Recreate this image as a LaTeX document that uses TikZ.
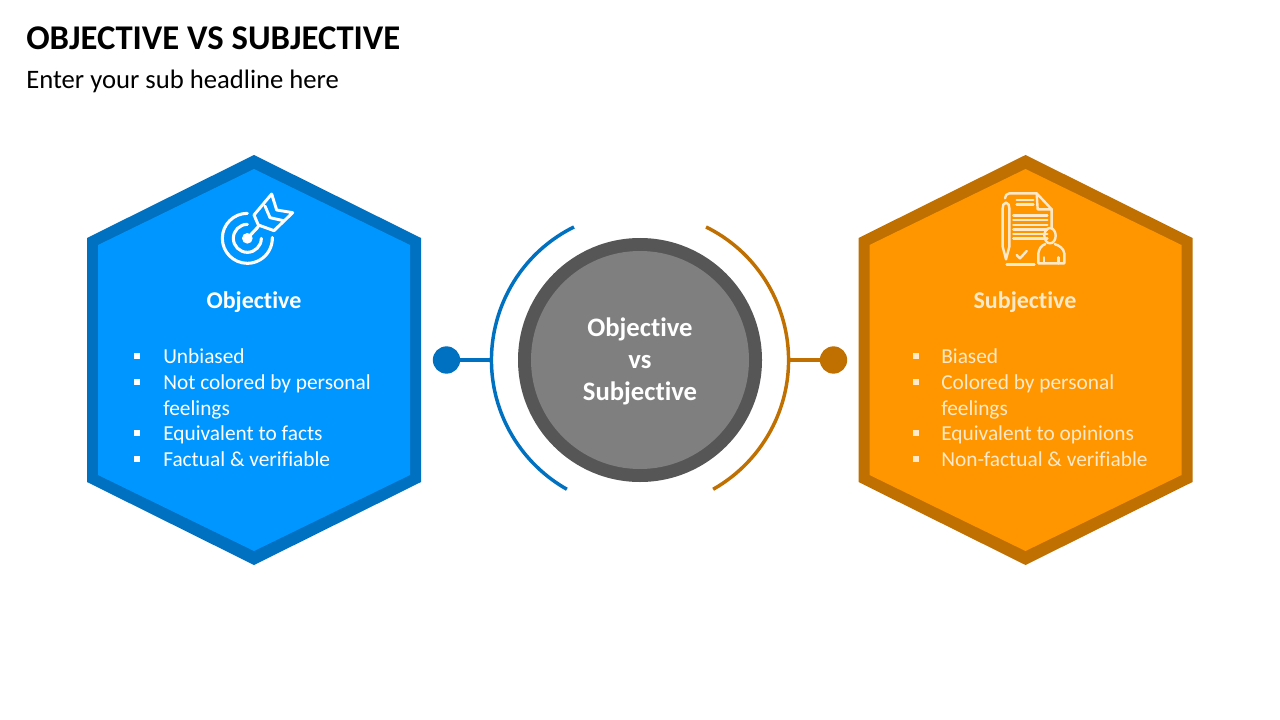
\documentclass[tikz,border=0pt]{standalone}
\usetikzlibrary{calc}
\usepackage{fontspec}
\setmainfont[Ligatures=NoCommon]{Carlito}
\definecolor{bluein}{HTML}{0096FF}
\definecolor{blueout}{HTML}{0070C0}
\definecolor{orin}{HTML}{FF9600}
\definecolor{orout}{HTML}{C07000}
\definecolor{ringc}{HTML}{565656}
\definecolor{corec}{HTML}{7F7F7F}
\definecolor{paleor}{HTML}{FFE9C8}
\tikzset{
  bodytext/.style={anchor=base west,inner sep=0pt,font=\fontsize{16}{19}\selectfont,text=white},
  paletext/.style={bodytext,text=paleor},
  headtext/.style={anchor=base,inner sep=0pt,font=\fontsize{18}{22}\bfseries\selectfont,text=white},
  centertext/.style={anchor=base,inner sep=0pt,font=\fontsize{20}{24}\bfseries\selectfont,text=white},
  bulletw/.style={fill=white,draw=none,minimum size=3.8pt,inner sep=0pt},
  bulleto/.style={fill=paleor,draw=none,minimum size=3.8pt,inner sep=0pt},
  dotnode/.style={circle,minimum size=20.5pt,inner sep=0pt,draw=none},
  iconw/.style={draw=white,line width=2.3pt,line cap=round,line join=round},
  icono/.style={draw=paleor,line width=1.8pt,line cap=round,line join=round},
}
\begin{document}
\begin{tikzpicture}[x=.75pt,y=-.75pt]
\useasboundingbox (0,0) rectangle (1280,720);
\fill[white] (0,0) rectangle (1280,720);
% titles
\node[anchor=base west,inner sep=0pt,font=\fontsize{26}{30}\bfseries\selectfont] (title) at (26,50) {OBJECTIVE VS SUBJECTIVE};
\node[anchor=base west,inner sep=0pt,font=\fontsize{20}{24}\selectfont] (subtitle) at (26,89) {Enter your sub headline here};
% hexagons
\fill[blueout] (254,155)--(421,238)--(421,482)--(254,565)--(87,482)--(87,238)--cycle;
\fill[bluein] (254,169)--(410,245)--(410,475)--(254,551)--(98,475)--(98,245)--cycle;
\fill[orout] (1025.5,155)--(1192.5,238)--(1192.5,482)--(1025.5,565)--(858.5,482)--(858.5,238)--cycle;
\fill[orin] (1025.5,169)--(1181.5,245)--(1181.5,475)--(1025.5,551)--(869.5,475)--(869.5,245)--cycle;
% centre
\coordinate (c) at (640,360);
\node[circle,fill=ringc,minimum size=183pt,inner sep=0pt] (ring) at (c) {};
\node[circle,fill=corec,minimum size=163.5pt,inner sep=0pt] (core) at (c) {};
\node[centertext] (ct1) at (640,336) {Objective};
\node[centertext] (ct2) at (640,368) {vs};
\node[centertext] (ct3) at (640,400) {Subjective};
% arcs
\draw[blueout,line width=2.6pt] ($(c)+(116.4:111.4pt)$) arc[start angle=116.4,end angle=240.5,radius=111.4pt];
\draw[orout,line width=2.6pt] ($(c)+(63.6:111.4pt)$) arc[start angle=63.6,end angle=-60.5,radius=111.4pt];
\coordinate (al) at (491,360);
\coordinate (ar) at (789,360);
\node[dotnode,fill=blueout] (dl) at (446.5,360) {};
\node[dotnode,fill=orout] (dr) at (833.5,360) {};
\draw[blueout,line width=2.8pt] (dl) -- (al);
\draw[orout,line width=2.8pt] (dr) -- (ar);
% left text
\node[headtext] (lh) at (254,308) {Objective};
\foreach \y in {356,382,433,459} \node[bulletw] at (137,\y) {};
\node[bodytext] (l1) at (163,363) {Unbiased};
\node[bodytext] (l2) at (163,389) {Not colored by personal};
\node[bodytext] (l3) at (163,415) {feelings};
\node[bodytext] (l4) at (163,440) {Equivalent to facts};
\node[bodytext] (l5) at (163,466) {Factual \& verifiable};
% right text
\node[headtext,text=paleor] (rh) at (1025,308) {Subjective};
\foreach \y in {356,382,433,459} \node[bulleto] at (916,\y) {};
\node[paletext] (r1) at (941,363) {Biased};
\node[paletext] (r2) at (941,389) {Colored by personal};
\node[paletext] (r3) at (941,415) {feelings};
\node[paletext] (r4) at (941,440) {Equivalent to opinions};
\node[paletext] (r5) at (941,466) {Non-factual \& verifiable};
% target icon (coordinates in thirds of a pixel)
\begin{scope}[shift={(190,170)},x=.25pt,y=-.25pt]
\fill[white] (172,205) circle[radius=4pt];
\draw[iconw] (172,130) arc[start angle=90,end angle=362,radius=18.75pt];
\draw[iconw] (172,163) arc[start angle=90,end angle=360,radius=10.5pt];
\draw[iconw] (172,205) -- (205,170);
\draw[iconw,line width=2.2pt] (192,135)--(245,72)--(260,120)--(308,128)--(252,182)--(205,165)--cycle;
\draw[iconw,line width=2.2pt] (225,108)--(240,143)--(280,152);
\end{scope}
% document icon
\begin{scope}[shift={(970,170)},x=.25pt,y=-.25pt]
\draw[icono] (105,85) to[out=90,in=180] (118,70) -- (200,70) -- (245,118) -- (245,175);
\draw[icono] (200,72) -- (203,118) -- (245,118);
\draw[icono] (110,283) -- (193,283);
\draw[icono] (140,90)--(190,90) (140,103)--(190,103);
\foreach \yy in {137,150,165,178,192,205} \draw[icono] (130,\yy)--(232,\yy);
\draw[icono] (140,255)--(150,265)--(170,243);
\draw[icono] (98,115) to[out=90,in=180] (108,98) to[out=0,in=90] (118,115) -- (118,230) -- (108,268) -- (98,230) -- cycle;
\draw[icono] (240,197) ellipse[x radius=17,y radius=23];
\draw[icono] (205,280) -- (205,250) to[out=80,in=200] (226,222) (254,222) to[out=-20,in=100] (283,250) -- (283,280) -- (205,280);
\draw[icono] (222,262)--(222,280) (265,262)--(265,280);
\end{scope}
\end{tikzpicture}
\end{document}
